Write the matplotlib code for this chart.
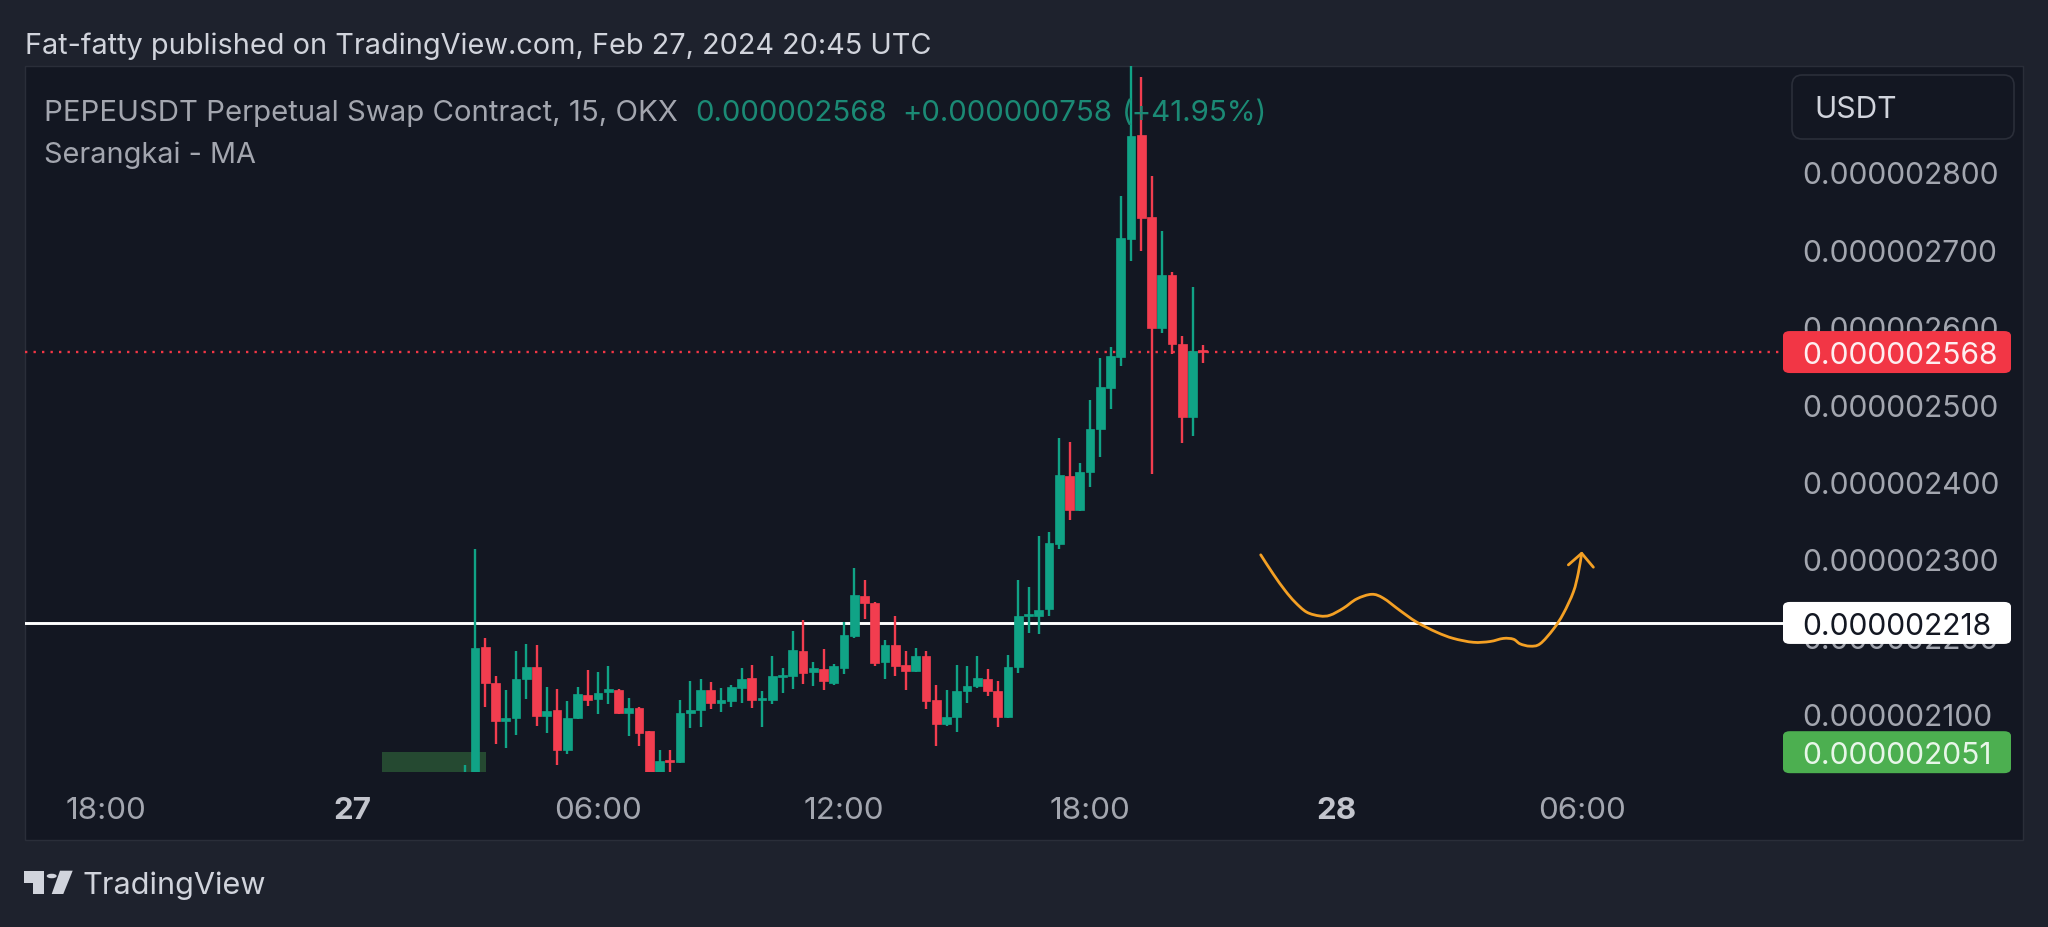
#!/usr/bin/env python3
# -*- coding: utf-8 -*-

import matplotlib
matplotlib.use('Agg')
import matplotlib.pyplot as plt
from matplotlib.patches import Rectangle, FancyBboxPatch, Polygon, Circle, PathPatch
from matplotlib.path import Path

# prices are in units of 1e-9 USDT, bars are 15 minute steps from Feb 26 18:00
bars = list(range(35, 108))
opens = [2020, 2020, 2187, 2140, 2091, 2095, 2146, 2161, 2098, 2105, 2054, 2095, 2125, 2120, 2129,
         2131, 2102, 2108, 2078, 2025, 2041, 2038, 2102, 2105, 2131, 2115, 2117, 2134, 2147, 2118,
         2119, 2148, 2149, 2182, 2154, 2159, 2141, 2160, 2201, 2253, 2244, 2167, 2189, 2164, 2156,
         2175, 2118, 2087, 2096, 2130, 2136, 2146, 2130, 2096, 2161, 2227, 2227, 2236, 2320, 2408,
         2364, 2413, 2469, 2522, 2562, 2714, 2848, 2742, 2599, 2668, 2579, 2484, 2571]
highs = [2034, 2314, 2199, 2150, 2131, 2182, 2191, 2190, 2135, 2133, 2117, 2135, 2157, 2154, 2163,
         2132, 2121, 2109, 2078, 2054, 2054, 2118, 2143, 2145, 2142, 2134, 2138, 2160, 2164, 2130,
         2175, 2160, 2208, 2222, 2167, 2184, 2165, 2219, 2289, 2274, 2245, 2196, 2227, 2182, 2186,
         2182, 2138, 2131, 2164, 2162, 2175, 2159, 2143, 2177, 2273, 2265, 2330, 2336, 2457, 2452,
         2425, 2506, 2560, 2575, 2770, 2940, 2924, 2795, 2724, 2671, 2589, 2652, 2577]
lows = [2018, 2020, 2110, 2062, 2056, 2073, 2120, 2085, 2076, 2035, 2049, 2094, 2111, 2100, 2113,
        2100, 2072, 2059, 2018, 2025, 2026, 2037, 2082, 2083, 2107, 2103, 2109, 2114, 2108, 2083,
        2113, 2128, 2133, 2139, 2137, 2131, 2138, 2152, 2199, 2223, 2162, 2146, 2149, 2131, 2155,
        2107, 2059, 2085, 2077, 2114, 2134, 2124, 2084, 2095, 2153, 2205, 2204, 2227, 2314, 2351,
        2363, 2394, 2433, 2495, 2550, 2686, 2699, 2410, 2592, 2566, 2451, 2459, 2554]
closes = [2022, 2186, 2140, 2091, 2095, 2146, 2161, 2098, 2104, 2054, 2095, 2126, 2119, 2127, 2132,
          2101, 2108, 2076, 2020, 2039, 2038, 2101, 2105, 2131, 2115, 2118, 2135, 2145, 2118, 2121,
          2149, 2151, 2183, 2153, 2160, 2143, 2163, 2202, 2254, 2244, 2166, 2189, 2162, 2156, 2175,
          2117, 2087, 2096, 2130, 2137, 2147, 2130, 2096, 2161, 2227, 2229, 2235, 2321, 2409, 2364,
          2413, 2469, 2523, 2563, 2715, 2847, 2741, 2599, 2668, 2579, 2484, 2570, 2568]

price_ticks = [2100, 2200, 2300, 2400, 2500, 2600, 2700, 2800]
time_ticks = [0, 24, 48, 72, 96, 120, 144]
time_labels = ['18:00', '27', '06:00', '12:00', '18:00', '28', '06:00']
bold_times = ['27', '28']

last_price = 2568
white_level = 2218
green_level = 2051

# zone drawn at the bottom of the chart
zone_start, zone_end = 26.9, 37.1
zone_bottom = 2000

# hand drawn forecast path
path_x = [112.65, 113.88, 115.02, 115.99, 117.13, 118.43, 119.41, 120.71, 122.01, 123.48, 124.61,
          126.24, 127.87, 129.82, 131.44, 133.39, 135.02, 136.32, 137.3, 137.95, 138.92, 139.9,
          141.2, 142.17, 143.15, 143.64, 143.96]
path_y = [2306, 2281, 2260, 2245, 2232, 2227, 2228, 2237, 2249, 2255, 2250,
          2234, 2219, 2206, 2198, 2193, 2194, 2198, 2197, 2191, 2188, 2191,
          2210, 2230, 2258, 2283, 2308]
head_x = [142.66, 143.96, 145.1]
head_y = [2293, 2308, 2290]

W, H = 2048, 928
OUTER = '#1e222d'
PANE = '#131722'
BORDER = '#2a2e39'
GREEN = '#10a386'
RED = '#f23d4f'
TEXT = '#d1d4dc'
MUTED = '#a3a6af'
DIM_GREEN = '#1b8a75'
ORANGE = '#f4a024'

plt.rcParams['font.family'] = ['Inter', 'DejaVu Sans']
plt.rcParams['font.size'] = 21.6

fig = plt.figure(figsize=(W / 100, H / 100), dpi=100, facecolor=OUTER)


def fx(x):
    return x / W


def fy(y):
    return 1 - y / H


def label(x, y, s, color=TEXT, size=21.6, **kw):
    fig.text(fx(x), fy(y), s, color=color, fontsize=size, va='baseline', **kw)


def smooth_path(xs, ys):
    # catmull-rom through the points, written out as cubic beziers
    verts = [(xs[0], ys[0])]
    codes = [Path.MOVETO]
    n = len(xs)
    for i in range(n - 1):
        a = max(i - 1, 0)
        d = min(i + 2, n - 1)
        verts.append((xs[i] + (xs[i + 1] - xs[a]) / 6, ys[i] + (ys[i + 1] - ys[a]) / 6))
        verts.append((xs[i + 1] - (xs[d] - xs[i]) / 6, ys[i + 1] - (ys[d] - ys[i]) / 6))
        verts.append((xs[i + 1], ys[i + 1]))
        codes += [Path.CURVE4] * 3
    return Path(verts, codes)


# pane background behind the axes
fig.add_artist(Rectangle((fx(25), fy(841)), (2023 - 25) / W, (841 - 67) / H, transform=fig.transFigure,
                         facecolor=PANE, edgecolor=BORDER, linewidth=1, zorder=-1))

ax = fig.add_axes([fx(25), fy(773), (1783 - 25) / W, (773 - 67) / H])
ax.patch.set_alpha(0)
for s in ax.spines.values():
    s.set_visible(False)
ax.set_xlim(-7.9, 163.6)
ax.set_ylim(2025.4, 2937.6)

ax.axhline(white_level, color='white', lw=2.1, zorder=1)
ax.axhline(last_price, color='#f23645', lw=1.7, ls=(0, (1, 2.6)), zorder=1)
ax.add_patch(Rectangle((zone_start, zone_bottom), zone_end - zone_start, green_level - zone_bottom,
                       facecolor='#4caf50', alpha=0.33, edgecolor='none', zorder=1.5))

colors = [GREEN if c >= o else RED for o, c in zip(opens, closes)]
ax.vlines(bars, lows, highs, colors=colors, lw=1.7, zorder=2)
ax.bar(bars, [abs(c - o) for o, c in zip(opens, closes)], bottom=[min(o, c) for o, c in zip(opens, closes)],
       width=0.86, color=colors, edgecolor=colors, linewidth=0.5, zorder=3)

ax.add_patch(PathPatch(smooth_path(path_x, path_y), facecolor='none', edgecolor=ORANGE, lw=2.0,
                       capstyle='round', joinstyle='round', zorder=4))
ax.plot(head_x, head_y, color=ORANGE, lw=2.0, solid_joinstyle='round', solid_capstyle='round', zorder=4)

ax.yaxis.tick_right()
ax.set_yticks(price_ticks)
ax.set_yticklabels([f'{p * 1e-9:.9f}' for p in price_ticks], color=MUTED)
ax.tick_params(axis='y', length=0, pad=14)
ax.set_xticks(time_ticks)
ax.set_xticklabels(time_labels, color=MUTED, fontsize=22.6)
ax.tick_params(axis='x', length=0, pad=17)
for t in ax.get_xticklabels():
    if t.get_text() in bold_times:
        t.set_fontweight('bold')
        t.set_color('#c3c5cd')


# price tags sit over the axis labels
def price_tag(price, face, text_color):
    y = H - ax.transData.transform((0, price))[1]
    fig.add_artist(FancyBboxPatch((fx(1786), fy(y + 18)), 222 / W, 36 / H,
                                  boxstyle='round,pad=0,rounding_size=0.002', transform=fig.transFigure,
                                  mutation_aspect=1, facecolor=face, edgecolor=face, linewidth=6 * 0.72,
                                  zorder=5))
    fig.text(fx(1802), fy(y + 11), f'{price * 1e-9:.9f}', color=text_color, fontsize=21.6,
             va='baseline', zorder=6)


price_tag(last_price, '#f23645', '#fdeef0')
price_tag(white_level, '#ffffff', '#131722')
price_tag(green_level, '#4caf50', '#e8f6e9')

# header and legend
label(25, 54, 'Fat-fatty published on TradingView.com, Feb 27, 2024 20:45 UTC', color=TEXT, size=20.8)
label(44, 121, 'PEPEUSDT Perpetual Swap Contract, 15, OKX', color=MUTED, size=21.15)
label(695, 121, '0.000002568', color=DIM_GREEN, size=21.2)
label(902, 121, '+0.000000758', color=DIM_GREEN, size=21.2)
label(1122, 121, '(+41.95%)', color=DIM_GREEN, size=21.2)
label(44, 163, 'Serangkai - MA', color=MUTED, size=20.8)

# currency box
fig.add_artist(FancyBboxPatch((fx(1792), fy(140)), 222 / W, 64 / H, boxstyle='round,pad=0,rounding_size=0.005',
                              transform=fig.transFigure, mutation_aspect=W / H, facecolor=PANE,
                              edgecolor=BORDER, linewidth=1.2, zorder=2))
label(1814, 118, 'USDT', color=TEXT)

# footer logo
logo_t = [(24.3, 871.7), (44.3, 871.7), (44.3, 895), (33.3, 895), (33.3, 884), (24.3, 884)]
logo_slash = [(60, 871.7), (72.7, 871.7), (63.3, 895), (51.7, 895)]
for pts in (logo_t, logo_slash):
    fig.add_artist(Polygon([(fx(a), fy(b)) for a, b in pts], closed=True, transform=fig.transFigure,
                           facecolor=TEXT, edgecolor='none'))
fig.add_artist(Circle((fx(51.7), fy(877)), 5 / W, transform=fig.transFigure, facecolor=TEXT, edgecolor='none'))
label(82, 894, 'TradingView', color=TEXT, size=22.1)

fig.savefig('out.png', dpi=100, facecolor=OUTER)
